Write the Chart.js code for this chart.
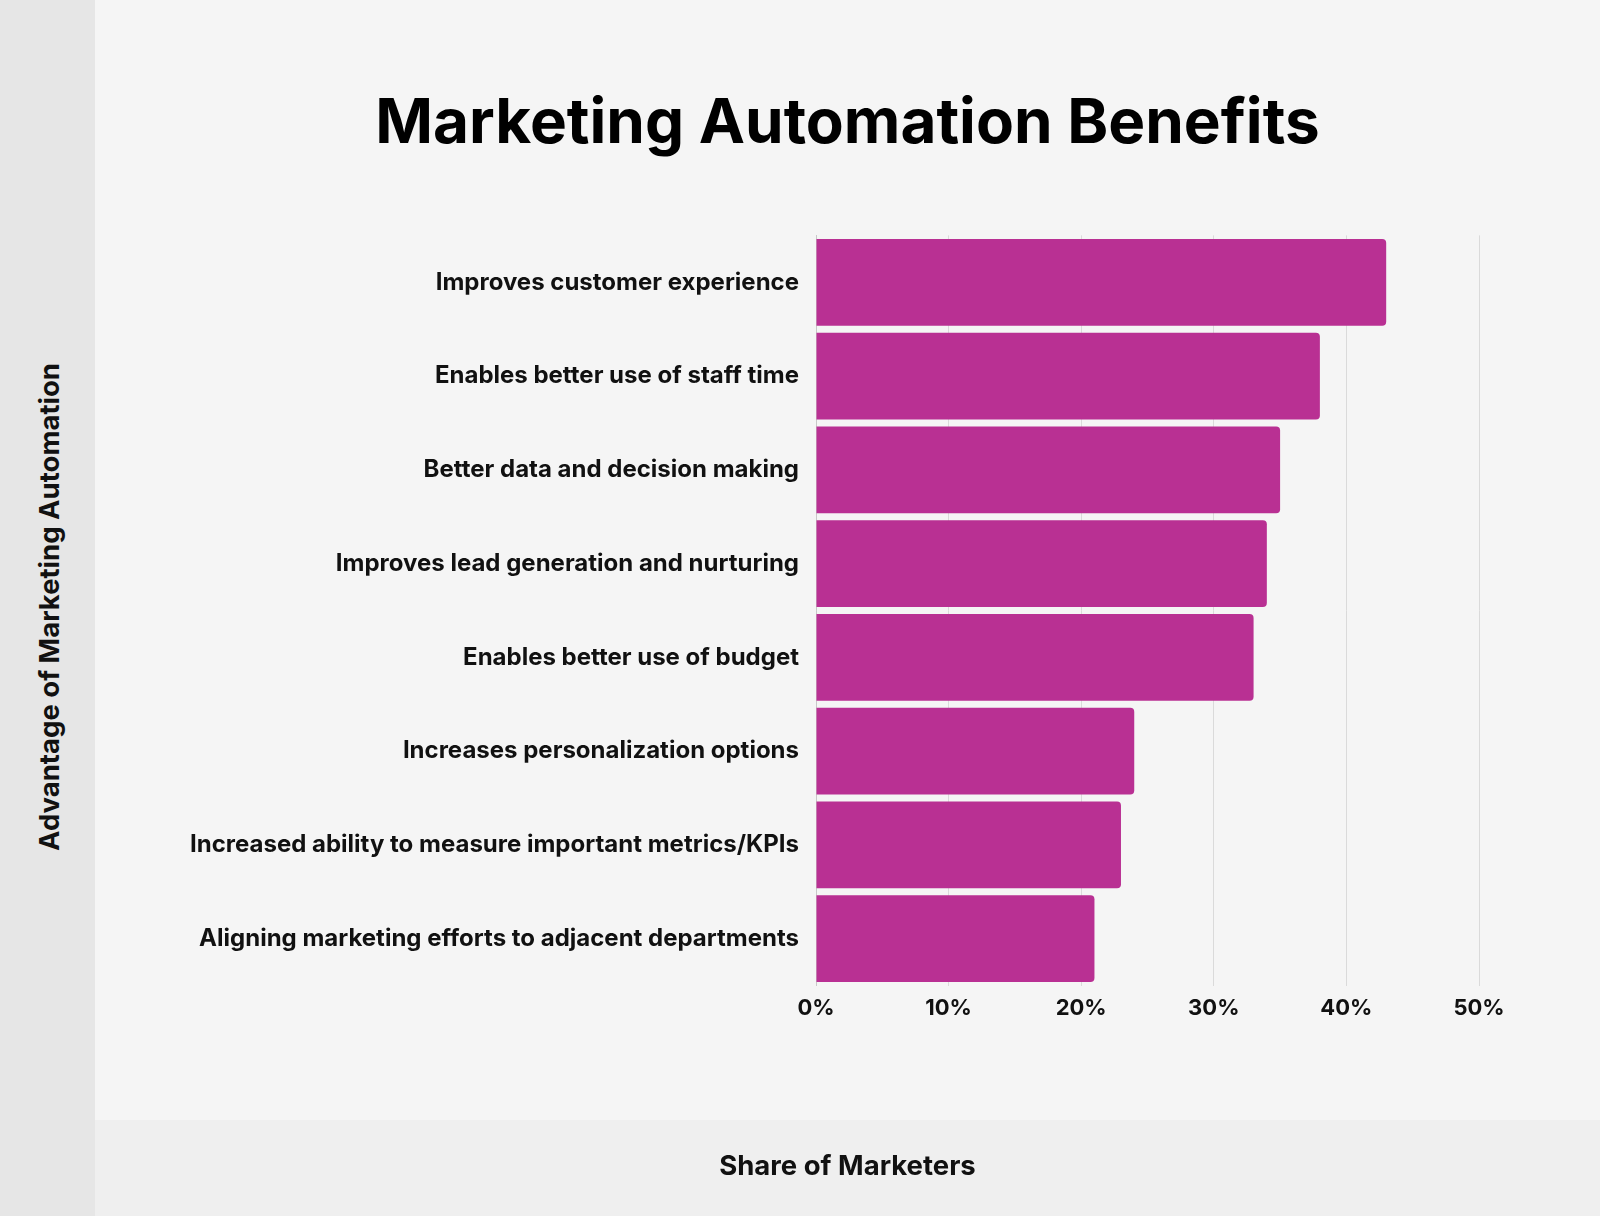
<!DOCTYPE html>
<html>
<head>
<meta charset="utf-8">
<script src="https://cdn.jsdelivr.net/npm/chart.js@4"></script>
<style>
  html, body { margin: 0; padding: 0; width: 1600px; height: 1216px; overflow: hidden; background: #f5f5f5; }
  #strip { position: absolute; left: 0; top: 0; width: 95px; height: 1216px; background: #e6e6e6; }
  #ytitle {
    position: absolute; left: 49px; top: 607px;
    transform: translate(-50%, -50%) rotate(-90deg);
    white-space: nowrap; font-family: Inter, sans-serif; font-weight: 700; font-size: 27.5px; color: #111;
  }
  #wrap { position: absolute; left: 95px; top: 0; width: 1505px; height: 1216px; }
</style>
</head>
<body>
<div id="strip"><div id="ytitle">Advantage of Marketing Automation</div></div>
<div id="wrap"><canvas id="chart"></canvas></div>
<script>
// DATA
const benefits = [
  "Improves customer experience",
  "Enables better use of staff time",
  "Better data and decision making",
  "Improves lead generation and nurturing",
  "Enables better use of budget",
  "Increases personalization options",
  "Increased ability to measure important metrics/KPIs",
  "Aligning marketing efforts to adjacent departments"
];
const shareOfMarketers = [43, 38, 35, 34, 33, 24, 23, 21];
const tickValues = [0, 10, 20, 30, 40, 50];

// background of the canvas + lower band
const bgPlugin = {
  id: "bg",
  beforeDraw(chart) {
    const c = chart.ctx;
    c.save();
    c.fillStyle = "#f5f5f5";
    c.fillRect(0, 0, chart.width, chart.height);
    c.fillStyle = "#efefef";
    c.fillRect(0, 1120, chart.width, chart.height - 1120);
    c.restore();
  }
};

const ctx = document.getElementById("chart").getContext("2d");
new Chart(ctx, {
  type: "bar",
  data: {
    labels: benefits,
    datasets: [{
      data: shareOfMarketers,
      backgroundColor: "#b93093",
      borderRadius: { topRight: 4, bottomRight: 4 },
      borderSkipped: "start",
      barPercentage: 0.925,
      categoryPercentage: 1
    }]
  },
  options: {
    indexAxis: "y",
    responsive: true,
    maintainAspectRatio: false,
    animation: false,
    layout: { padding: 0 },
    plugins: {
      legend: { display: false },
      tooltip: { enabled: false },
      title: {
        display: true,
        text: "Marketing Automation Benefits",
        color: "#000",
        font: { family: "Inter", size: 62, weight: "700", lineHeight: 1.2 },
        padding: { top: 87, bottom: 74 }
      },
      subtitle: {
        display: true,
        position: "bottom",
        text: "Share of Marketers",
        color: "#111",
        font: { family: "Inter", size: 27.5, weight: "700", lineHeight: 1.2 },
        padding: { top: 118, bottom: 33 }
      }
    },
    scales: {
      x: {
        min: 0,
        max: 50,
        afterBuildTicks(scale) { scale.ticks = tickValues.map(v => ({ value: v })); },
        ticks: {
          callback: v => v + "%",
          color: "#111",
          padding: 10,
          font: { family: "Inter", size: 22, weight: "700" }
        },
        grid: { color: "#dadada", lineWidth: 1, drawTicks: false },
        border: { display: false }
      },
      y: {
        afterFit(scale) { scale.width = 721; },
        ticks: {
          color: "#111",
          padding: 17,
          font: { family: "Inter", size: 24, weight: "700" }
        },
        grid: { display: false, drawTicks: false },
        border: { display: true, color: "#c8c8c8", width: 1 }
      },
      // empty right-hand axis, only reserves the margin right of the plot
      yRight: {
        type: "category",
        labels: benefits,
        position: "right",
        afterFit(scale) { scale.width = 121; },
        ticks: { display: false },
        grid: { display: false, drawTicks: false },
        border: { display: false }
      }
    }
  },
  plugins: [bgPlugin]
});
</script>
</body>
</html>
